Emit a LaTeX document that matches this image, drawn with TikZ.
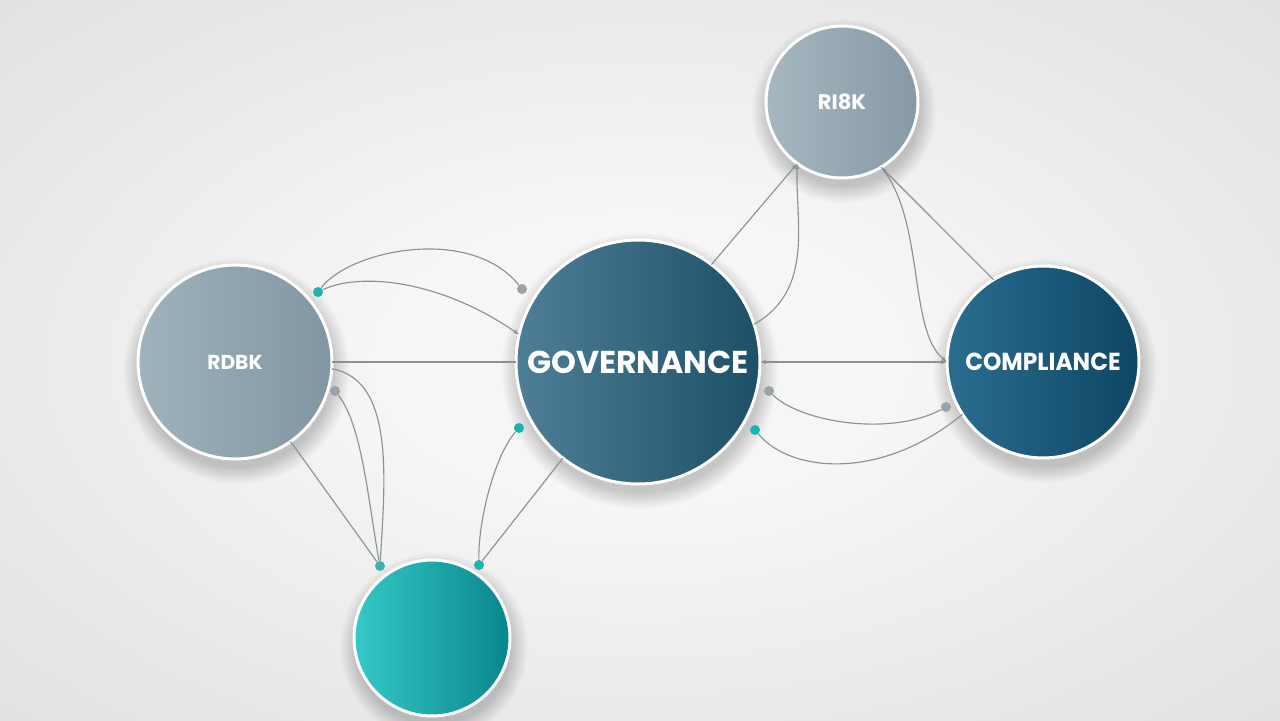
\documentclass[tikz,border=0pt]{standalone}
\usepackage{fontspec}
\newfontfamily\pop{Poppins}
\usetikzlibrary{arrows.meta}
\definecolor{bgin}{HTML}{F6F6F6}
\definecolor{bgout}{HTML}{D5D6D7}
\definecolor{linec}{HTML}{8A9297}
\definecolor{tealdot}{HTML}{1AB3AD}
\definecolor{graydot}{HTML}{9AA3A7}
\definecolor{lA}{HTML}{A0B3BD}\definecolor{lB}{HTML}{8096A2}
\definecolor{rA}{HTML}{A6B7C0}\definecolor{rB}{HTML}{8799A5}
\definecolor{gA}{HTML}{4E7F96}\definecolor{gB}{HTML}{1D4F66}
\definecolor{cA}{HTML}{2B6D90}\definecolor{cB}{HTML}{0D4663}
\definecolor{tA}{HTML}{36C8C7}\definecolor{tB}{HTML}{08868D}
\pgfdeclareradialshading{bgshade}{\pgfpoint{0bp}{0bp}}{color(0bp)=(bgin); color(10bp)=(bgin); color(50bp)=(bgout)}
\newcommand\softshadow[3]{%
  \foreach \k in {0,...,11}{%
    \fill[black,opacity=0.014] (#1+2,#2+9) circle [radius={(#3+16-1.5*\k)*0.02cm}];}}
\begin{document}
\begin{tikzpicture}[x=0.02cm,y=-0.02cm,
  hub/.style={circle, inner sep=0pt, outer sep=0pt, draw=white, line width=1.7pt, text=white},
  tdot/.style={circle, inner sep=0pt, minimum size=0.2cm, fill=tealdot},
  gdot/.style={circle, inner sep=0pt, minimum size=0.2cm, fill=graydot},
  conn/.style={draw=linec, line width=0.65pt},
  arr/.style={-{Latex[length=3.2pt,width=2.6pt]}},
  darr/.style={{Latex[length=3.2pt,width=2.6pt]}-{Latex[length=3.2pt,width=2.6pt]}}]
\useasboundingbox (0,0) rectangle (1280,720);
\shade[shading=bgshade] (0,0) rectangle (1280,720);
% shadows
\softshadow{842}{102}{76}
\softshadow{235}{362}{97}
\softshadow{638}{362}{122}
\softshadow{1043}{362}{96}
\softshadow{432}{638}{78}
% circles
\node[hub, minimum size=3.04cm, left color=rA, right color=rB] (R) at (842,102)
  {\pop\bfseries\fontsize{12}{12}\selectfont RI8K};
\node[hub, minimum size=3.88cm, left color=lA, right color=lB] (L) at (235,362)
  {\pop\bfseries\fontsize{11.5}{12}\selectfont RDBK};
\node[hub, minimum size=4.88cm, left color=gA, right color=gB] (G) at (638,362)
  {\pop\bfseries\fontsize{18}{18}\selectfont GOVERNANCE};
\node[hub, minimum size=3.84cm, left color=cA, right color=cB] (C) at (1043,362)
  {\scalebox{0.95}[1]{\pop\bfseries\fontsize{14}{14}\selectfont COMPLIANCE}};
\node[hub, minimum size=3.12cm, left color=tA, right color=tB] (T) at (432,638) {};
% dots
\node[tdot] (d1) at (318,292) {};
\node[gdot] (d2) at (522,289) {};
\node[gdot] (d3) at (335,391) {};
\node[tdot, fill=tealdot!70!graydot] (d4) at (380,566) {};
\node[tdot] (d5) at (519,428) {};
\node[tdot] (d6) at (479,565) {};
\node[gdot] (d7) at (769,391) {};
\node[tdot] (d8) at (755,430) {};
\node[gdot] (d9) at (946,407) {};
% connectors: left side
\draw[conn] (d1) .. controls (350,250) and (470,225) .. (d2);
\draw[conn, arr] (d1) .. controls (360,272) and (440,280) .. (G.167);
\draw[conn, line width=0.9pt] (L.east) -- (G.west);
\draw[conn] (d3) .. controls (362,425) and (368,500) .. (d4);
\draw[conn] (L.-4) .. controls (395,380) and (385,480) .. (d4);
\draw[conn] (L.305) -- (d4);
% connectors: bottom
\draw[conn] (d5) .. controls (495,455) and (478,520) .. (d6);
\draw[conn] (G.232) -- (d6);
% connectors: top right
\draw[conn, arr] (G.53) -- (R.234);
\draw[conn, arr] (G.18) .. controls (815,290) and (795,220) .. (R.234);
\draw[conn, arr] (C.121) -- (R.301);
\draw[conn, arr] (R.301) .. controls (925,220) and (908,330) .. (C.west);
% connectors: right side
\draw[conn, darr, line width=0.9pt] (G.east) -- (C.west);
\draw[conn] (d7) .. controls (800,422) and (890,437) .. (d9);
\draw[conn] (d8) .. controls (790,472) and (880,482) .. (C.213);
\end{tikzpicture}
\end{document}
